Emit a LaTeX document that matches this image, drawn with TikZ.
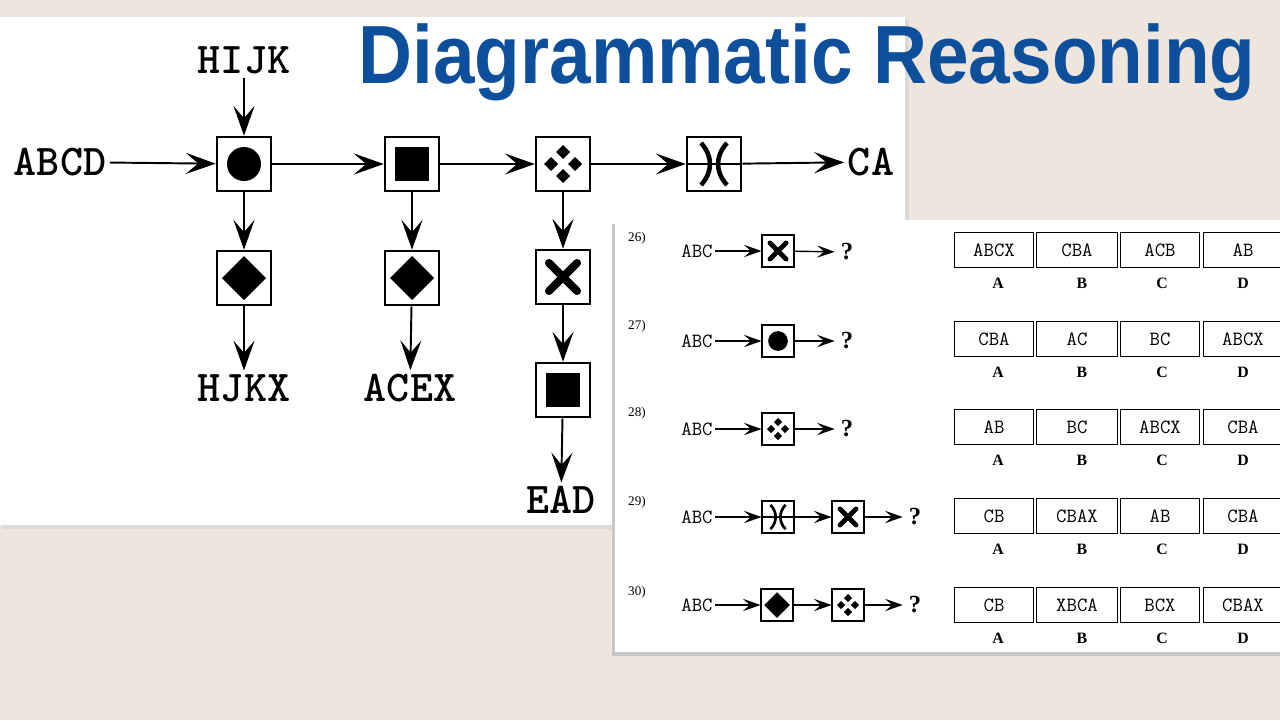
\documentclass[tikz,border=0pt]{standalone}
\usepackage{fontspec}
\setmainfont{Liberation Serif}
\setsansfont{Liberation Sans}
\usetikzlibrary{arrows.meta}
\definecolor{bg}{HTML}{EEE6DD}
\definecolor{ttl}{HTML}{0E4F9C}
\tikzset{
  x=0.02cm,y=-0.02cm,
  bx/.style={draw,line width=1.2pt,fill=white,minimum size=31pt,inner sep=0pt},
  sbx/.style={draw,line width=0.8pt,fill=white,minimum size=18pt,inner sep=0pt},
  big/.style={font=\ttfamily\bfseries\fontsize{25}{25}\selectfont,inner sep=2pt},
  sm/.style={font=\ttfamily\fontsize{11.5}{11.5}\selectfont,inner sep=1pt},
  opt/.style={draw,line width=0.8pt,fill=white,minimum width=45pt,minimum height=20pt,inner sep=0pt,font=\ttfamily\fontsize{11.5}{11.5}\selectfont},
  lt/.style={font=\bfseries\fontsize{9}{9}\selectfont},
  num/.style={font=\fontsize{7.5}{7.5}\selectfont},
  qm/.style={font=\bfseries\fontsize{14}{14}\selectfont},
  conn/.style={line width=1.1pt,-{Stealth[length=17pt,width=12pt,inset=7pt]}},
  sconn/.style={line width=0.8pt,-{Stealth[length=10pt,width=7pt,inset=4pt]}},
}
\newcommand\symcircle[2]{\fill[shift={(#1)},scale=#2] (0,0) circle[radius=17];}
\newcommand\symsquare[2]{\fill[shift={(#1)},scale=#2] (-17,-17) rectangle (17,17);}
\newcommand\symdiamond[2]{\fill[shift={(#1)},scale=#2] (-22,0)--(0,-22)--(22,0)--(0,22)--cycle;}
\newcommand\symclover[2]{\begin{scope}[shift={(#1)},scale=#2]
 \foreach \a/\b in {12/0,-12/0,0/12,0/-12}{\fill (\a-7,\b)--(\a,\b-7)--(\a+7,\b)--(\a,\b+7)--cycle;}
 \end{scope}}
\newcommand\symx[2]{\begin{scope}[shift={(#1)},scale=#2]
 \draw[line width=#2*4.6pt,line cap=round] (-14,-14)--(14,14) (-14,14)--(14,-14);
 \end{scope}}
\newcommand\symfish[2]{\begin{scope}[shift={(#1)},scale=#2]
 \draw[line width=#2*1pt] (-27,0)--(27,0);
 \draw[line width=#2*2.6pt] (-13,-21) .. controls (-1,-8) and (-1,8) .. (-13,21);
 \draw[line width=#2*2.6pt] (13,-21) .. controls (1,-8) and (1,8) .. (13,21);
 \end{scope}}
\begin{document}
\begin{tikzpicture}
\fill[bg] (0,0) rectangle (1280,720);
\fill[black!15] (3,20) rectangle (909,529);
\fill[white] (0,17) rectangle (905,525);
\node[text=ttl,font=\sffamily\bfseries\fontsize{47}{47}\selectfont,anchor=center] (title) at (807,62) {\scalebox{0.905}[1]{Diagrammatic Reasoning}};
\node[big] (hijk) at (244,60) {HIJK};
\node[big] (abcd) at (60,162) {ABCD};
\node[big] (ca) at (871,162) {CA};
\node[bx] (b1) at (244,164) {}; \symcircle{b1}{1}
\node[bx] (b2) at (412,164) {}; \symsquare{b2}{1}
\node[bx] (b3) at (563,164) {}; \symclover{b3}{1}
\node[bx] (b4) at (714,164) {}; \symfish{b4}{1}
\node[bx] (d1) at (244,278) {}; \symdiamond{d1}{1}
\node[bx] (d2) at (412,278) {}; \symdiamond{d2}{1}
\node[bx] (d3) at (563,277) {}; \symx{d3}{1}
\node[bx] (e3) at (563,390) {}; \symsquare{e3}{1}
\node[big] (hjkx) at (244,388) {HJKX};
\node[big] (acex) at (410,388) {ACEX};
\node[big] (ead) at (561,500) {EAD};
\draw[conn] (hijk) -- (b1);
\draw[conn] (abcd) -- (b1);
\draw[conn] (b1) -- (b2);
\draw[conn] (b2) -- (b3);
\draw[conn] (b3) -- (b4);
\draw[conn] (b4) -- (ca);
\draw[conn] (b1) -- (d1);
\draw[conn] (d1) -- (hjkx);
\draw[conn] (b2) -- (d2);
\draw[conn] (d2) -- (acex);
\draw[conn] (b3) -- (d3);
\draw[conn] (d3) -- (e3);
\draw[conn] (e3) -- (ead);
\fill[black!22] (612,224) rectangle (1280,656);
\fill[white] (615,220) rectangle (1280,652);
\begin{scope}
\clip (615,220) rectangle (1280,652);
\node[num] (n26) at (637,238) {26)};
\node[sm] (a26) at (697,251) {ABC};
\node[sbx] (s26) at (778,251) {}; \symx{s26}{0.58}
\node[qm] (q26) at (847,252) {?};
\draw[sconn] (a26) -- (s26); \draw[sconn] (s26) -- (q26);
\node[num] (n27) at (637,326) {27)};
\node[sm] (a27) at (697,341) {ABC};
\node[sbx] (s27) at (778,341) {}; \symcircle{s27}{0.58}
\node[qm] (q27) at (847,341) {?};
\draw[sconn] (a27) -- (s27); \draw[sconn] (s27) -- (q27);
\node[num] (n28) at (637,413) {28)};
\node[sm] (a28) at (697,429) {ABC};
\node[sbx] (s28) at (778,429) {}; \symclover{s28}{0.58}
\node[qm] (q28) at (847,429) {?};
\draw[sconn] (a28) -- (s28); \draw[sconn] (s28) -- (q28);
\node[num] (n29) at (637,502) {29)};
\node[sm] (a29) at (697,517) {ABC};
\node[sbx] (s29) at (778,517) {}; \symfish{s29}{0.58}
\node[sbx] (t29) at (848,517) {}; \symx{t29}{0.58}
\node[qm] (q29) at (915,517) {?};
\draw[sconn] (a29) -- (s29); \draw[sconn] (s29) -- (t29); \draw[sconn] (t29) -- (q29);
\node[num] (n30) at (637,592) {30)};
\node[sm] (a30) at (697,605) {ABC};
\node[sbx] (s30) at (777,605) {}; \symdiamond{s30}{0.58}
\node[sbx] (t30) at (848,605) {}; \symclover{t30}{0.58}
\node[qm] (q30) at (915,605) {?};
\draw[sconn] (a30) -- (s30); \draw[sconn] (s30) -- (t30); \draw[sconn] (t30) -- (q30);
\foreach \r/\y/\oa/\ob/\oc/\od in {1/250/ABCX/CBA/ACB/AB,2/339/CBA/AC/BC/ABCX,3/427/AB/BC/ABCX/CBA,4/516/CB/CBAX/AB/CBA,5/605/CB/XBCA/BCX/CBAX}{
 \node[opt] (o\r a) at (994,\y) {\oa};
 \node[opt,minimum width=46pt] (o\r b) at (1077,\y) {\ob};
 \node[opt] (o\r c) at (1160,\y) {\oc};
 \node[opt] (o\r d) at (1243,\y) {\od};
 \node[lt] (l\r a) at (998,\y+33) {A};
 \node[lt] (l\r b) at (1082,\y+33) {B};
 \node[lt] (l\r c) at (1162,\y+33) {C};
 \node[lt] (l\r d) at (1243,\y+33) {D};
}
\end{scope}
\useasboundingbox (0,0) rectangle (1280,720);
\end{tikzpicture}
\end{document}
